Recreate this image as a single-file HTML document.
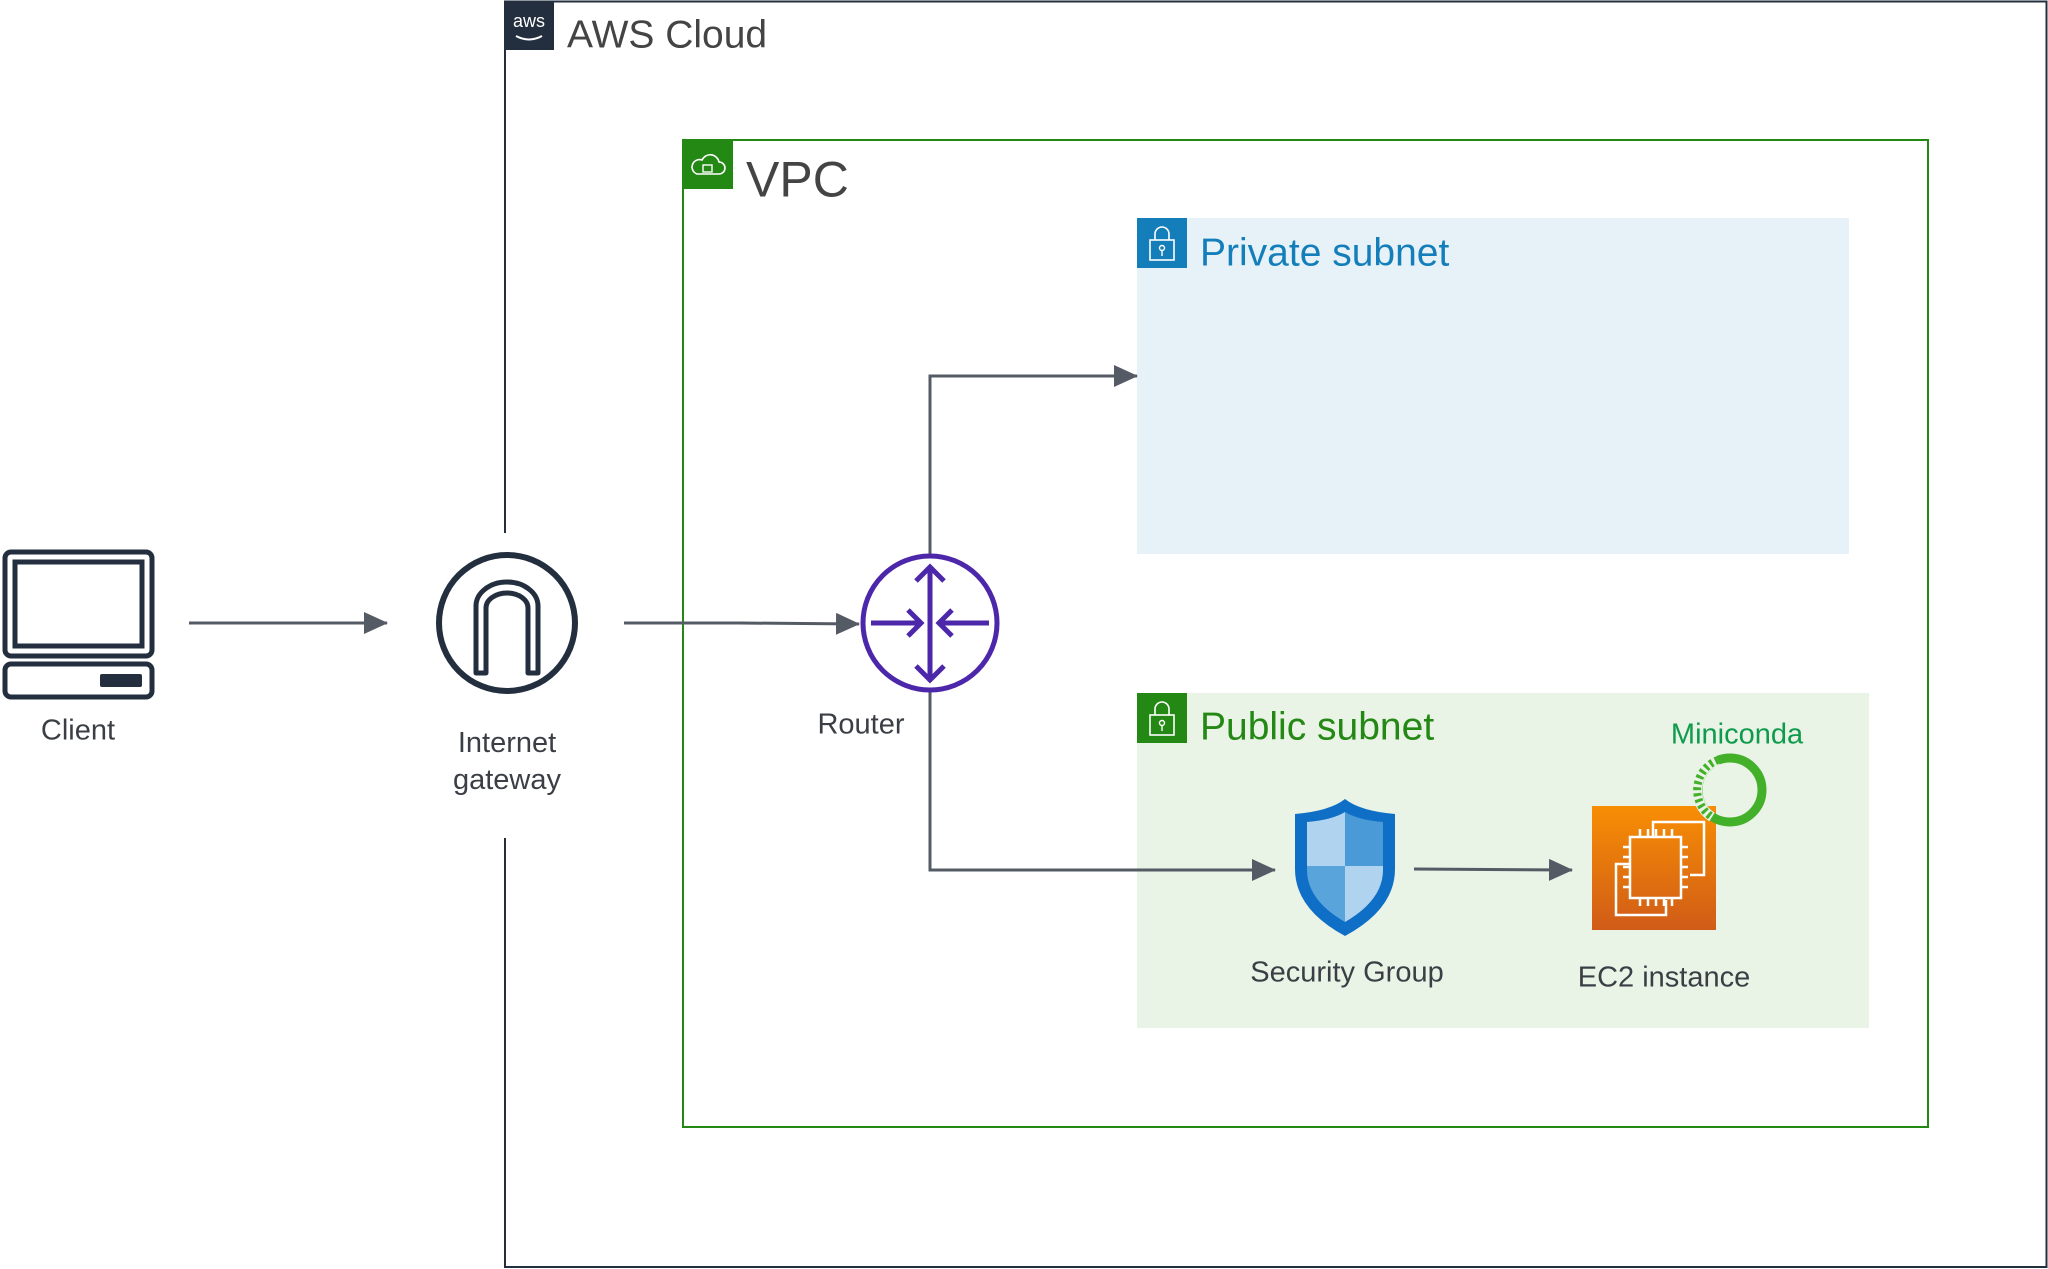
<!DOCTYPE html>
<html><head><meta charset="utf-8"><style>
body{margin:0;width:2048px;height:1269px;background:#fff;position:relative;overflow:hidden;font-family:"Liberation Sans",sans-serif}
.t{position:absolute;white-space:nowrap;transform:translate(-50%,-50%);font-size:29px;color:#3b3f45;text-align:center;line-height:37px}
</style></head><body>
<svg width="2048" height="1269" style="position:absolute;left:0;top:0">
<defs>
<marker id="b" markerWidth="24" markerHeight="22" refX="23" refY="11" orient="auto" markerUnits="userSpaceOnUse"><path d="M0,0L24,11L0,22z" fill="#545b64"/></marker></defs>
<path d="M505,533V1.5H2046.5V1267H505V838" fill="none" stroke="#232f3e" stroke-width="2"/>
<rect x="505" y="1" width="49" height="49" fill="#232f3e"/>
<text x="529" y="27" fill="#fff" font-size="18" text-anchor="middle" font-family="Liberation Sans">aws</text>
<path d="M516,36q13,7 26,0" stroke="#fff" stroke-width="2" fill="none"/>
<rect x="683" y="140" width="1245" height="987" fill="none" stroke="#248814" stroke-width="2"/>
<rect x="683" y="140" width="50" height="49" fill="#248814"/>
<path d="M697,174h22a6,6 0 0 0 0-12a9,9 0 0 0-17-2a7,7 0 0 0-5,14z" fill="none" stroke="#fff" stroke-width="1.6"/>
<rect x="703" y="165" width="9" height="7" fill="none" stroke="#fff" stroke-width="1.4"/>
<rect x="1137" y="218" width="712" height="336" fill="#e6f2f8"/>
<rect x="1137" y="218" width="50" height="50" fill="#147eba"/>
<rect x="1150" y="240" width="24" height="20" fill="none" stroke="#fff" stroke-width="1.6"/>
<path d="M1155,240v-6a7,7 0 0 1 14,0v6" fill="none" stroke="#fff" stroke-width="1.6"/>
<circle cx="1162" cy="248" r="2.5" fill="none" stroke="#fff" stroke-width="1.4"/><path d="M1162,251v5" stroke="#fff" stroke-width="1.4"/>
<rect x="1137" y="693" width="732" height="335" fill="#e9f3e6"/>
<rect x="1137" y="693" width="50" height="50" fill="#248814"/>
<rect x="1150" y="715" width="24" height="20" fill="none" stroke="#fff" stroke-width="1.6"/>
<path d="M1155,715v-6a7,7 0 0 1 14,0v6" fill="none" stroke="#fff" stroke-width="1.6"/>
<circle cx="1162" cy="723" r="2.5" fill="none" stroke="#fff" stroke-width="1.4"/><path d="M1162,726v5" stroke="#fff" stroke-width="1.4"/>
<rect x="5" y="552" width="147" height="104" rx="6" fill="none" stroke="#232f3e" stroke-width="5"/>
<rect x="15" y="562" width="127" height="84" fill="none" stroke="#232f3e" stroke-width="5"/>
<rect x="5" y="664" width="147" height="33" rx="6" fill="none" stroke="#232f3e" stroke-width="5"/>
<rect x="100" y="674" width="42" height="13" rx="2" fill="#232f3e"/>
<g stroke="#545b64" stroke-width="3" fill="none">
<path d="M189,623H387" marker-end="url(#b)"/>
<path d="M624,623H740L859,624" marker-end="url(#b)"/>
<path d="M930,555V376H1137" marker-end="url(#b)"/>
<path d="M930,692V870H1275" marker-end="url(#b)"/>
<path d="M1414,869L1572,870" marker-end="url(#b)"/>
</g>
<circle cx="507" cy="623" r="68" fill="#fff" stroke="#232f3e" stroke-width="6"/>
<path d="M476,673V606a31,24 0 0 1 62,0V673h-10V608a21,15 0 0 0-42,0V673z" fill="none" stroke="#232f3e" stroke-width="5" stroke-linejoin="round"/>
<circle cx="930" cy="623" r="67" fill="#fff" stroke="#4d27aa" stroke-width="5"/>
<g stroke="#4d27aa" stroke-width="5" fill="none">
<path d="M930,567V680M916,581L930,567L944,581M916,666L930,680L944,666"/>
<path d="M871,623H921M908,610L921,623L908,636"/>
<path d="M989,623H939M952,610L939,623L952,636"/>
</g>
<path d="M1345,799q-15,12-50,15v55q0,40 50,67q50-27 50-67v-55q-35-3-50-15z" fill="#0f6fc6"/>
<path d="M1345,812q-13,8-38,10v44h38z" fill="#b0d4f0"/>
<path d="M1345,812q13,8 38,10v44h-38z" fill="#4a9ad8"/>
<path d="M1307,866h38v56q-38-22-38-52z" fill="#5aa4dc"/>
<path d="M1345,866h38v4q0,30-38,52z" fill="#b0d4f0"/>
<defs><linearGradient id="g" x1="0" y1="0" x2="0" y2="1"><stop offset="0" stop-color="#f78e04"/><stop offset="1" stop-color="#d05c17"/></linearGradient></defs>
<rect x="1592" y="806" width="124" height="124" fill="url(#g)"/>
<g stroke="#fff" stroke-width="2.5" fill="none">
<path d="M1653,837V822h51v53h-14"/>
<path d="M1630,864h-14v51h50v-15"/>
<rect x="1630" y="837" width="51" height="61"/>
<path d="M1640,837v-8M1648,837v-8M1656,837v-8M1664,837v-8M1672,837v-8M1640,898v8M1648,898v8M1656,898v8M1664,898v8M1672,898v8M1630,847h-7M1630,857h-7M1630,867h-7M1630,877h-7M1630,887h-7M1681,847h7M1681,857h7M1681,867h7M1681,877h7M1681,887h7"/>
</g>
<circle cx="1730" cy="790" r="32" fill="none" stroke="#43b02a" stroke-width="9"/>
<path d="M1718,760a32,32 0 0 0-6,57" fill="none" stroke="#e9f3e6" stroke-width="10"/>
<path d="M1718,760a32,32 0 0 0-6,57" fill="none" stroke="#43b02a" stroke-width="8" stroke-dasharray="3 3"/>
</svg>
<div class="t" style="left:567px;top:35px;transform:translate(0,-50%);font-size:39px;color:#444">AWS Cloud</div>
<div class="t" style="left:746px;top:180px;transform:translate(0,-50%);font-size:50px;color:#444">VPC</div>
<div class="t" style="left:1200px;top:253px;transform:translate(0,-50%);font-size:39px;color:#147eba">Private subnet</div>
<div class="t" style="left:1200px;top:727px;transform:translate(0,-50%);font-size:39px;color:#248814">Public subnet</div>
<div class="t" style="left:78px;top:731px">Client</div>
<div class="t" style="left:507px;top:762px">Internet<br>gateway</div>
<div class="t" style="left:861px;top:725px">Router</div>
<div class="t" style="left:1347px;top:973px">Security Group</div>
<div class="t" style="left:1664px;top:978px">EC2 instance</div>
<div class="t" style="left:1737px;top:735px;color:#0e9b4c">Miniconda</div>
</body></html>
